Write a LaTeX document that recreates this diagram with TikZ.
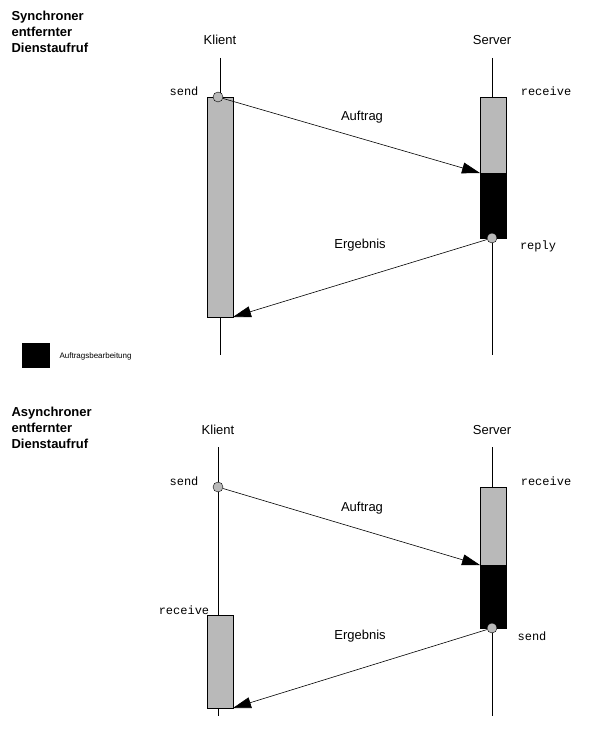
\documentclass[tikz,border=0pt]{standalone}
\usepackage{fontspec}
\setmainfont{Liberation Sans}
\setmonofont{Liberation Mono}
\usetikzlibrary{arrows.meta}
\begin{document}
\begin{tikzpicture}[x=1pt,y=-1pt,
  life/.style={draw=black,line width=0.8pt},
  bar/.style={draw=black,fill=gray!55,line width=0.8pt},
  work/.style={draw=black,fill=black},
  pt/.style={circle,draw=black,fill=gray!55,inner sep=0pt,minimum size=10pt},
  msg/.style={draw=black,line width=0.6pt,-{Triangle[length=18pt,width=11pt]}},
  lbl/.style={font=\fontsize{13}{15}\selectfont},
  code/.style={font=\ttfamily\fontsize{12}{14}\selectfont},
  title/.style={font=\bfseries\fontsize{13}{16}\selectfont,align=left,anchor=north west}]
\useasboundingbox (0,0) rectangle (609,754);
% ---- top
\node[title] (t1) at (8,8) {Synchroner\\entfernter\\Dienstaufruf};
\node[lbl] (k1) at (220,40) {Klient};
\node[lbl] (s1) at (492,40) {Server};
\coordinate (k1a) at (220,58); \coordinate (k1b) at (220,355);
\coordinate (s1a) at (492,58); \coordinate (s1b) at (492,355);
\draw[life] (k1a) -- (k1b);
\draw[life] (s1a) -- (s1b);
\draw[bar] (207,97) rectangle (233,317);
\draw[bar] (480,97) rectangle (506,173);
\draw[work] (480,173) rectangle (506,238);
\node[pt] (c1) at (218,97) {};
\node[pt] (c2) at (492,238) {};
\coordinate (e1) at (480,173);
\coordinate (e2) at (233,317);
\draw[msg] (c1) -- (e1);
\draw[msg] (c2) -- (e2);
\node[lbl] (a1) at (362,117) {Auftrag};
\node[lbl] (r1) at (360,245) {Ergebnis};
\node[code] (sd1) at (184,91) {send};
\node[code] (rc1) at (546,91) {receive};
\node[code] (rp1) at (538,246) {reply};
\node[work,minimum width=27pt,minimum height=24pt,inner sep=0pt] (lg) at (36,355) {};
\node[font=\fontsize{8}{10}\selectfont,anchor=west] (lgt) at (56,356) {Auftragsbearbeitung};
% ---- bottom
\node[title] (t2) at (8,404) {Asynchroner\\entfernter\\Dienstaufruf};
\node[lbl] (k2) at (218,430) {Klient};
\node[lbl] (s2) at (492,430) {Server};
\coordinate (k2a) at (218,447); \coordinate (k2b) at (218,716);
\coordinate (s2a) at (492,447); \coordinate (s2b) at (492,716);
\draw[life] (k2a) -- (k2b);
\draw[life] (s2a) -- (s2b);
\draw[bar] (480,487) rectangle (506,565);
\draw[work] (480,565) rectangle (506,628);
\draw[bar] (207,615) rectangle (233,708);
\node[pt] (c3) at (218,487) {};
\node[pt] (c4) at (492,628) {};
\coordinate (e3) at (480,565);
\coordinate (e4) at (233,708);
\draw[msg] (c3) -- (e3);
\draw[msg] (c4) -- (e4);
\node[lbl] (a2) at (362,508) {Auftrag};
\node[lbl] (r2) at (360,636) {Ergebnis};
\node[code] (sd2) at (184,481) {send};
\node[code] (rc2) at (546,481) {receive};
\node[code] (sd3) at (532,636) {send};
\node[code] (rc3) at (184,610) {receive};
\end{tikzpicture}
\end{document}
